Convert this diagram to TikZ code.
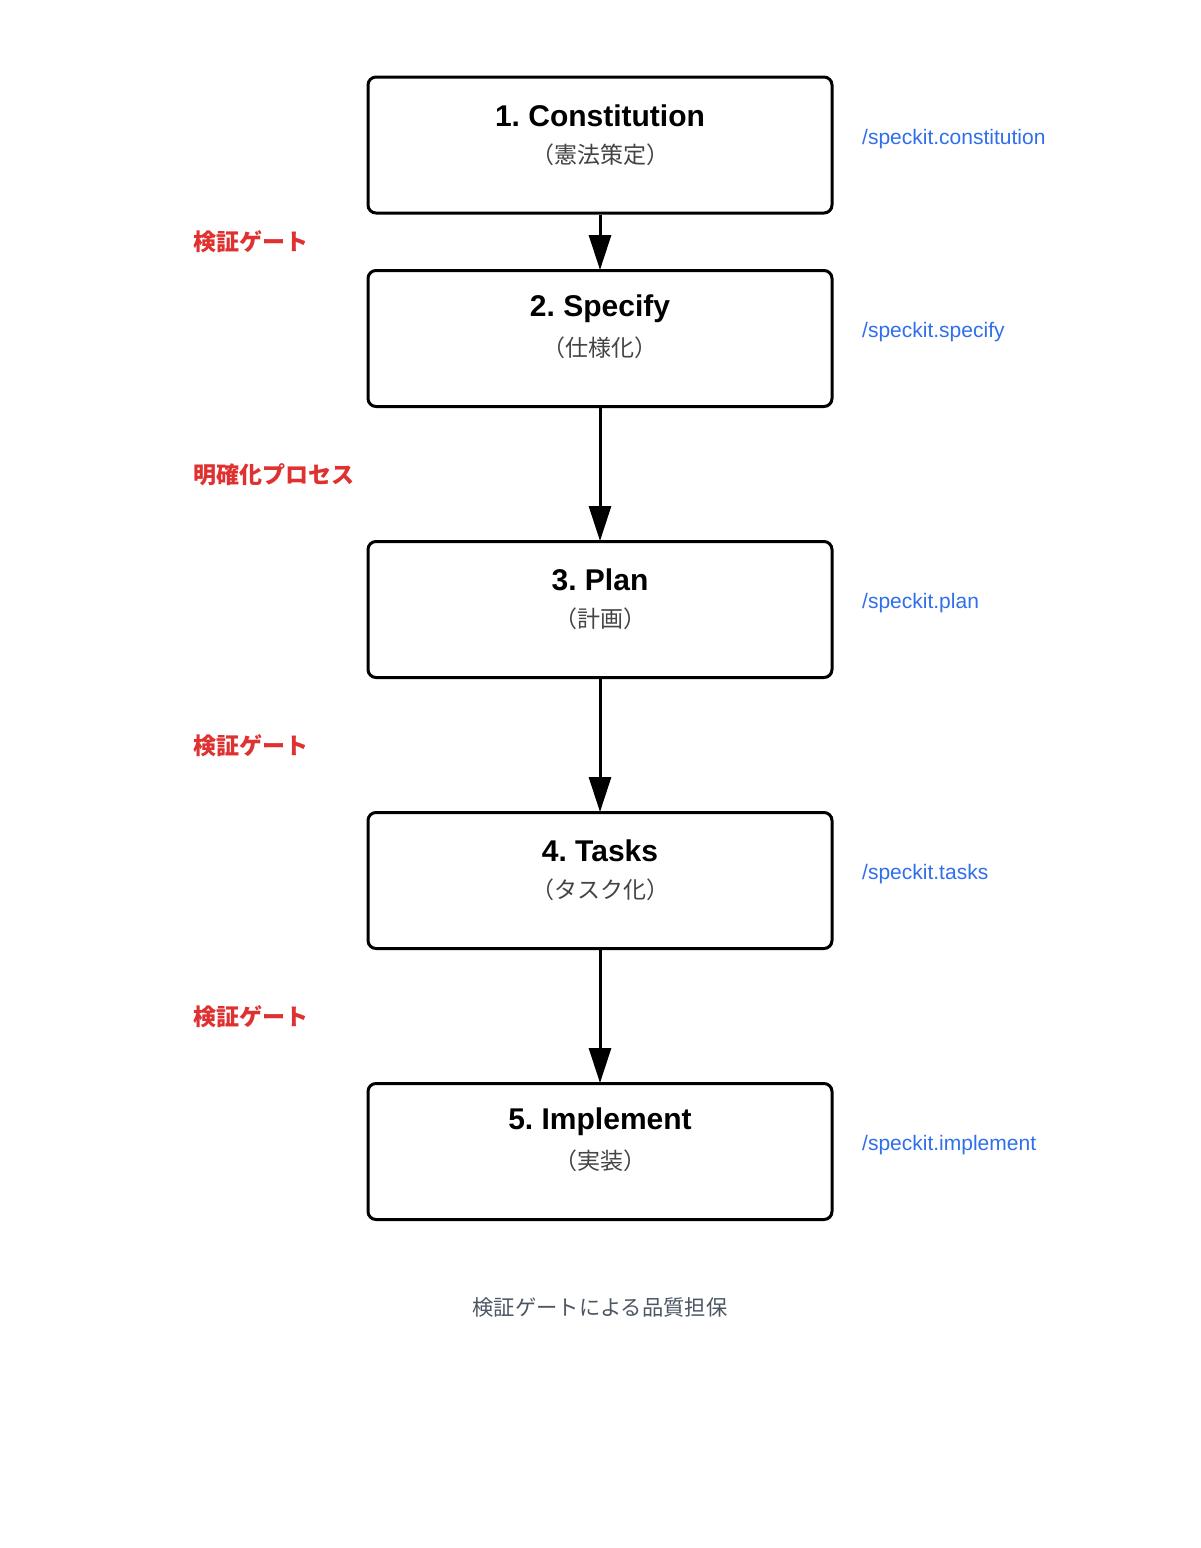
\documentclass[tikz,border=0pt]{standalone}
\usepackage{fontspec}
\setmainfont{Liberation Sans}
\newfontfamily\jp{Noto Sans CJK JP}
\usetikzlibrary{arrows.meta}
\frenchspacing
\definecolor{gatered}{HTML}{E03131}
\definecolor{cmdblue}{HTML}{2F6FEB}
\definecolor{subgrey}{HTML}{444444}
\definecolor{capgrey}{HTML}{4B5563}
\tikzset{
  x=1pt,y=-1pt,
  stepbox/.style={draw=black,line width=3pt,rounded corners=8pt,minimum width=464pt,minimum height=136pt,inner sep=0pt},
  ttl/.style={font=\fontsize{30}{36}\selectfont\bfseries,anchor=center,inner sep=0pt},
  sub/.style={font=\jp\fontsize{23}{27}\selectfont,text=subgrey,anchor=center,inner sep=0pt},
  cmd/.style={font=\fontsize{21}{25}\selectfont,text=cmdblue,anchor=west,inner sep=0pt},
  gate/.style={font=\jp\fontsize{23}{27}\selectfont\bfseries,text=gatered,anchor=west,inner sep=0pt},
  flow/.style={line width=3pt,-{Triangle[length=35pt,width=22pt]},shorten >=-1pt}
}
\begin{document}
\begin{tikzpicture}
\useasboundingbox[fill=white] (0,0) rectangle (1200,1548);
\node[stepbox] (b1) at (600,145) {};
\node[stepbox] (b2) at (600,338.5) {};
\node[stepbox] (b3) at (600,609.5) {};
\node[stepbox] (b4) at (600,880.5) {};
\node[stepbox] (b5) at (600,1151.5) {};
\node[ttl] (t1) at (600,116) {1. Constitution};
\node[sub] (s1) at (600,155) {（憲法策定）};
\node[ttl] (t2) at (600,309) {2. Specify};
\node[sub] (s2) at (600,348) {（仕様化）};
\node[ttl] (t3) at (600,580) {3. Plan};
\node[sub] (s3) at (600,619) {（計画）};
\node[ttl] (t4) at (600,851) {4. Tasks};
\node[sub] (s4) at (600,890) {（タスク化）};
\node[ttl] (t5) at (600,1122) {5. Implement};
\node[sub] (s5) at (600,1161) {（実装）};
\node[cmd] (c1) at (862,139) {/speckit.constitution};
\node[cmd] (c2) at (862,332) {/speckit.specify};
\node[cmd] (c3) at (862,603) {/speckit.plan};
\node[cmd] (c4) at (862,874) {/speckit.tasks};
\node[cmd] (c5) at (862,1145) {/speckit.implement};
\node[gate] (g1) at (193,242) {検証ゲート};
\node[gate] (g2) at (193,475) {明確化プロセス};
\node[gate] (g3) at (193,746) {検証ゲート};
\node[gate] (g4) at (193,1017) {検証ゲート};
\node[font=\jp\fontsize{21.3}{25}\selectfont,text=capgrey,inner sep=0pt] (cap) at (600,1307) {検証ゲートによる品質担保};
\draw[flow] (b1.south) -- (b2.north);
\draw[flow] (b2.south) -- (b3.north);
\draw[flow] (b3.south) -- (b4.north);
\draw[flow] (b4.south) -- (b5.north);
\end{tikzpicture}
\end{document}
